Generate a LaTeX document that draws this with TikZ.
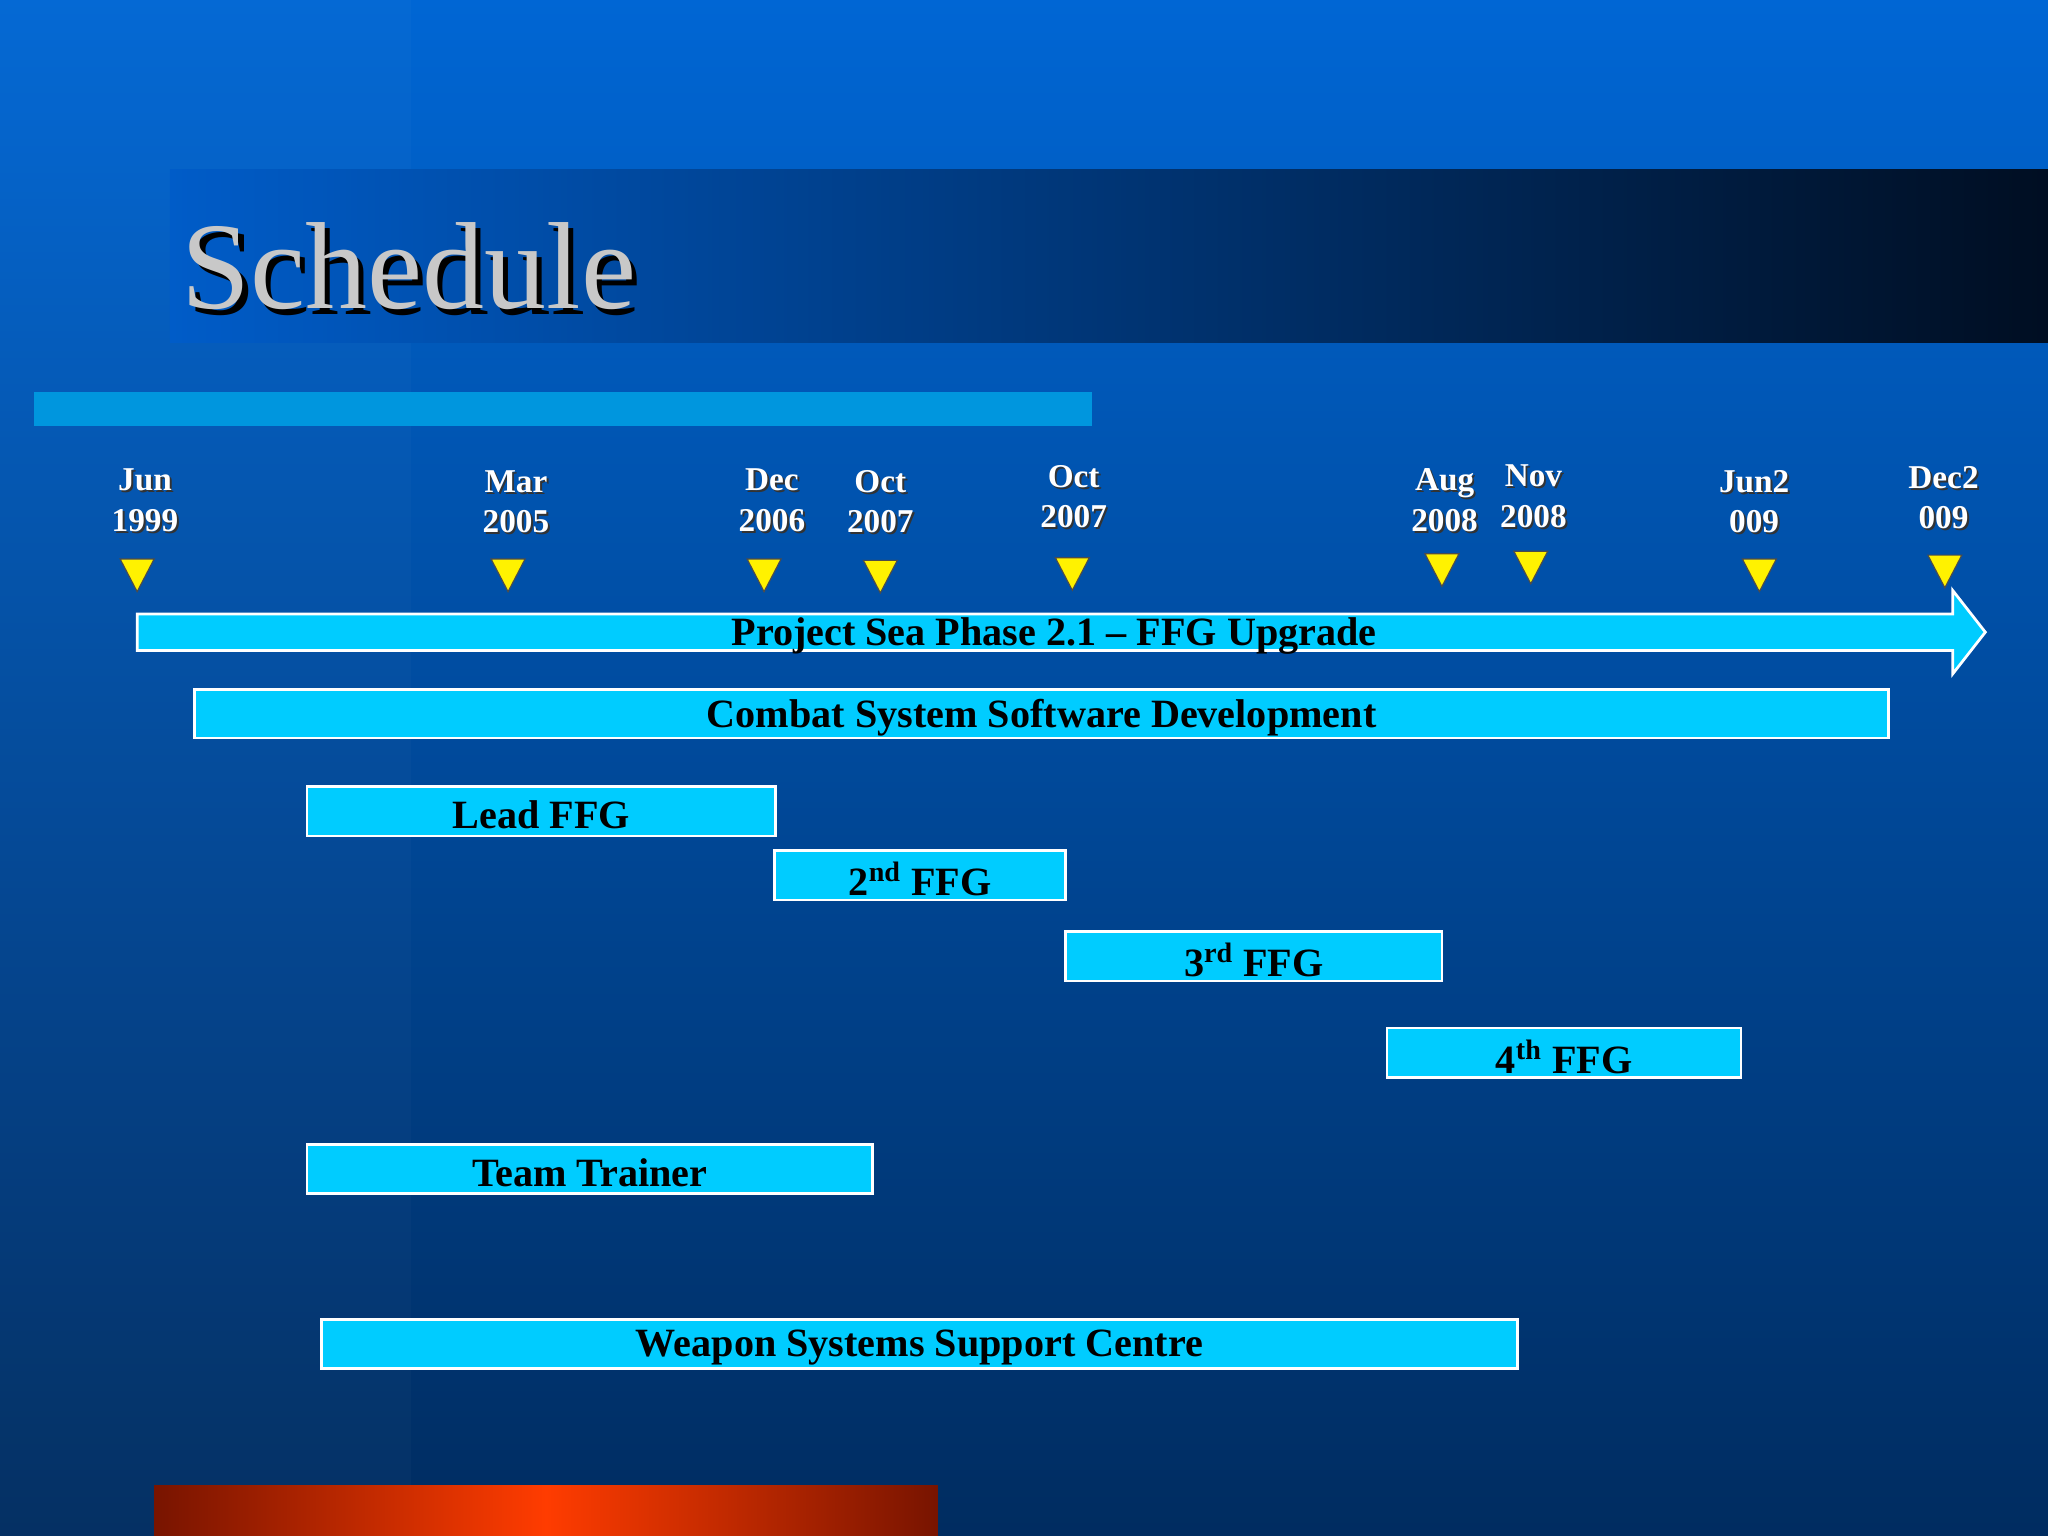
\documentclass[tikz,border=0pt]{standalone}
\usepackage{fontspec}
\setmainfont{Liberation Serif}
\definecolor{cyanb}{RGB}{0,204,255}
\definecolor{bgtop}{RGB}{0,102,212}
\definecolor{bgbot}{RGB}{0,44,96}
\definecolor{tband1}{RGB}{0,92,200}
\definecolor{tband2}{RGB}{0,14,34}
\definecolor{lbar}{RGB}{0,150,222}
\definecolor{dred}{RGB}{120,20,0}
\definecolor{ored}{RGB}{255,60,0}
\definecolor{tgray}{RGB}{200,200,200}
\begin{document}
\begin{tikzpicture}[x=0.02cm,y=-0.02cm,
  bar/.style={draw=white,line width=1.2pt,fill=cyanb},
  bartext/.style={font=\bfseries\fontsize{17.5}{19}\selectfont,text=black},
  tri/.style={draw=black!70,fill=yellow,line width=0.5pt},
  datelab/.style={font=\bfseries\fontsize{14.5}{17.5}\selectfont,text=white,align=center}]
\useasboundingbox (0,0) rectangle (1568,1176);
\shade[top color=bgtop,bottom color=bgbot] (0,0) rectangle (1568,1176);
\fill[white,opacity=0.02] (0,0) rectangle (315,1176);
\shade[left color=tband1,right color=tband2] (130,130) rectangle (1568,262);
\fill[lbar] (26,300) rectangle (836,326);
\shade[left color=dred,right color=ored] (118,1137) rectangle (418,1176);
\shade[left color=ored,right color=dred] (418,1137) rectangle (718,1176);
\node[anchor=west,font=\fontsize{54}{56}\selectfont,text=black] (tsh) at (137,208) {Schedule};
\node[anchor=west,font=\fontsize{54}{56}\selectfont,text=tgray] (title) at (133,204) {Schedule};
\draw[bar] (105,470) -- (1495,470) -- (1495,452) -- (1520,484) -- (1495,516) -- (1495,498) -- (105,498) -- cycle;
\node[bartext] (arrowt) at (807,487) {Project Sea Phase 2.1 -- FFG Upgrade};
\foreach \n/\a/\b/\c/\d/\t in {cs/149/528/1446/565/{Combat System Software Development},
  lead/235/602/594/640/{Lead FFG},
  two/593/651/816/689/{2\textsuperscript{nd} FFG},
  three/816/713/1104/751/{3\textsuperscript{rd} FFG},
  four/1062/787/1333/825/{4\textsuperscript{th} FFG},
  team/235/876/668/914/{Team Trainer},
  wss/246/1010/1162/1048/{Weapon Systems Support Centre}}{
  \draw[bar] (\a,\b) rectangle (\c,\d);
  \node[bartext] (\n) at ({(\a+\c)/2},{(\b+\d)/2+3}) {\t};
}
\foreach \x/\y in {105/428,389/428,585/428,674/429,821/427,1104/424,1172/422,1347/428,1489/425}{
  \draw[tri] (\x-13,\y) -- (\x+13,\y) -- (\x,\y+25) -- cycle;
}
\foreach \n/\x/\y/\t in {d1/111/383/{Jun\\1999},d2/395/384/{Mar\\2005},d3/591/383/{Dec\\2006},d4/674/384/{Oct\\2007},
  d5/822/380/{Oct\\2007},d6/1106/383/{Aug\\2008},d7/1174/380/{Nov\\2008},d8/1343/384/{Jun2\\009},d9/1488/381/{Dec2\\009}}{
  \node[datelab,text=black!80] at (\x+1.5,\y+1.5) {\t};
  \node[datelab] (\n) at (\x,\y) {\t};
}
\end{tikzpicture}
\end{document}
